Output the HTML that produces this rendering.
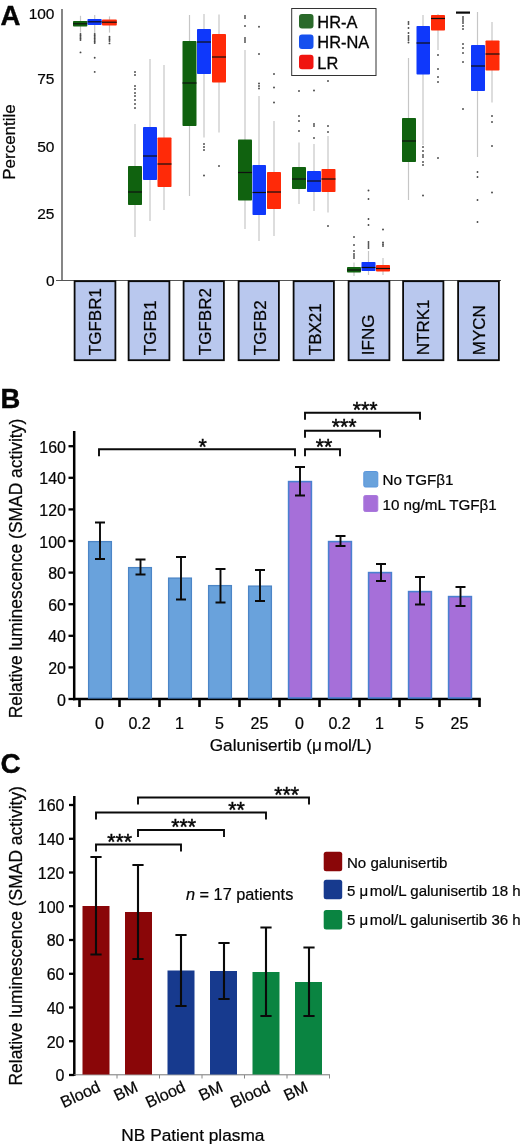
<!DOCTYPE html>
<html lang="en"><head><meta charset="utf-8"><title>Figure</title>
<style>html,body{margin:0;padding:0;background:#fff}svg{display:block}text{font-family:"Liberation Sans", Arial, sans-serif;fill:#050505;stroke:#050505;stroke-width:0.22px}</style>
</head><body>
<svg width="520" height="1148" viewBox="0 0 520 1148">
<rect width="520" height="1148" fill="#fff"/>
<g id="panelA">
<text x="0.6" y="25" font-size="27.6" font-weight="bold" fill="#000" style="stroke-width:0.4px">A</text>
<line x1="62" y1="9" x2="62" y2="281" stroke="#444" stroke-width="1.3"/>
<line x1="56" y1="280.5" x2="501" y2="280.5" stroke="#555" stroke-width="1"/>
<text x="54.5" y="19.4" font-size="15.5" text-anchor="end">100</text>
<text x="54.5" y="84.4" font-size="15.5" text-anchor="end">75</text>
<text x="54.5" y="151.9" font-size="15.5" text-anchor="end">50</text>
<text x="54.5" y="218.9" font-size="15.5" text-anchor="end">25</text>
<text x="54.5" y="285.8" font-size="15.5" text-anchor="end">0</text>
<text transform="translate(15,142) rotate(-90)" font-size="17" text-anchor="middle">Percentile</text>
<line x1="80.5" y1="15.8" x2="80.5" y2="32.6" stroke="#c6c6c6" stroke-width="1.2"/>
<rect x="73.0" y="20.9" width="14.3" height="5.6" fill="#10620f" rx="0.8"/>
<line x1="73.0" y1="23.8" x2="87.3" y2="23.8" stroke="#101010" stroke-width="1.2"/>
<circle cx="80.5" cy="34.0" r="0.95" fill="#484848"/>
<circle cx="80.5" cy="35.5" r="0.95" fill="#484848"/>
<circle cx="80.5" cy="37.0" r="0.95" fill="#484848"/>
<circle cx="80.5" cy="38.5" r="0.95" fill="#484848"/>
<circle cx="80.5" cy="40.0" r="0.95" fill="#484848"/>
<circle cx="80.5" cy="52.4" r="0.95" fill="#484848"/>
<line x1="94.7" y1="15.0" x2="94.7" y2="33.0" stroke="#c6c6c6" stroke-width="1.2"/>
<rect x="87.5" y="18.9" width="14.2" height="6.0" fill="#0f38fb" rx="0.8"/>
<line x1="87.5" y1="21.8" x2="101.7" y2="21.8" stroke="#101010" stroke-width="1.2"/>
<circle cx="94.7" cy="34.0" r="0.95" fill="#484848"/>
<circle cx="94.7" cy="35.5" r="0.95" fill="#484848"/>
<circle cx="94.7" cy="37.0" r="0.95" fill="#484848"/>
<circle cx="94.7" cy="38.5" r="0.95" fill="#484848"/>
<circle cx="94.7" cy="40.0" r="0.95" fill="#484848"/>
<circle cx="94.7" cy="41.5" r="0.95" fill="#484848"/>
<circle cx="94.7" cy="43.0" r="0.95" fill="#484848"/>
<circle cx="94.7" cy="57.8" r="0.95" fill="#484848"/>
<circle cx="94.7" cy="71.9" r="0.95" fill="#484848"/>
<line x1="109.5" y1="16.4" x2="109.5" y2="32.6" stroke="#c6c6c6" stroke-width="1.2"/>
<rect x="102.0" y="19.5" width="14.8" height="6.1" fill="#ff2a08" rx="0.8"/>
<line x1="102.0" y1="22.2" x2="116.8" y2="22.2" stroke="#101010" stroke-width="1.2"/>
<circle cx="109.5" cy="36.6" r="0.95" fill="#484848"/>
<circle cx="109.5" cy="38.0" r="0.95" fill="#484848"/>
<circle cx="109.5" cy="39.5" r="0.95" fill="#484848"/>
<circle cx="109.5" cy="41.0" r="0.95" fill="#484848"/>
<circle cx="109.5" cy="43.4" r="0.95" fill="#484848"/>
<line x1="135.0" y1="124.0" x2="135.0" y2="237.0" stroke="#c6c6c6" stroke-width="1.2"/>
<rect x="128.0" y="166.0" width="14.0" height="39.0" fill="#10620f" rx="0.8"/>
<line x1="128.0" y1="192.0" x2="142.0" y2="192.0" stroke="#101010" stroke-width="1.2"/>
<circle cx="135.0" cy="72.0" r="0.95" fill="#484848"/>
<circle cx="135.0" cy="75.0" r="0.95" fill="#484848"/>
<circle cx="135.0" cy="86.0" r="0.95" fill="#484848"/>
<circle cx="135.0" cy="89.0" r="0.95" fill="#484848"/>
<circle cx="135.0" cy="93.0" r="0.95" fill="#484848"/>
<circle cx="135.0" cy="96.0" r="0.95" fill="#484848"/>
<circle cx="135.0" cy="100.0" r="0.95" fill="#484848"/>
<circle cx="135.0" cy="104.0" r="0.95" fill="#484848"/>
<circle cx="135.0" cy="108.0" r="0.95" fill="#484848"/>
<line x1="150.0" y1="59.0" x2="150.0" y2="221.0" stroke="#c6c6c6" stroke-width="1.2"/>
<rect x="143.0" y="127.0" width="14.0" height="53.0" fill="#0f38fb" rx="0.8"/>
<line x1="143.0" y1="156.0" x2="157.0" y2="156.0" stroke="#101010" stroke-width="1.2"/>
<line x1="164.0" y1="65.0" x2="164.0" y2="210.0" stroke="#c6c6c6" stroke-width="1.2"/>
<rect x="157.5" y="137.5" width="14.0" height="49.5" fill="#ff2a08" rx="0.8"/>
<line x1="157.5" y1="164.0" x2="171.5" y2="164.0" stroke="#101010" stroke-width="1.2"/>
<line x1="189.5" y1="15.0" x2="189.5" y2="196.0" stroke="#c6c6c6" stroke-width="1.2"/>
<rect x="182.5" y="41.0" width="14.0" height="85.0" fill="#10620f" rx="0.8"/>
<line x1="182.5" y1="83.0" x2="196.5" y2="83.0" stroke="#101010" stroke-width="1.2"/>
<line x1="204.0" y1="14.0" x2="204.0" y2="137.5" stroke="#c6c6c6" stroke-width="1.2"/>
<rect x="197.0" y="29.0" width="14.0" height="45.0" fill="#0f38fb" rx="0.8"/>
<line x1="197.0" y1="42.0" x2="211.0" y2="42.0" stroke="#101010" stroke-width="1.2"/>
<circle cx="204.0" cy="144.0" r="0.95" fill="#484848"/>
<circle cx="204.0" cy="147.0" r="0.95" fill="#484848"/>
<circle cx="204.0" cy="150.0" r="0.95" fill="#484848"/>
<circle cx="204.0" cy="175.5" r="0.95" fill="#484848"/>
<line x1="219.0" y1="14.5" x2="219.0" y2="132.5" stroke="#c6c6c6" stroke-width="1.2"/>
<rect x="212.0" y="34.0" width="14.0" height="48.5" fill="#ff2a08" rx="0.8"/>
<line x1="212.0" y1="57.0" x2="226.0" y2="57.0" stroke="#101010" stroke-width="1.2"/>
<circle cx="219.0" cy="166.0" r="0.95" fill="#484848"/>
<line x1="245.0" y1="50.0" x2="245.0" y2="229.0" stroke="#c6c6c6" stroke-width="1.2"/>
<rect x="238.0" y="139.5" width="14.0" height="61.0" fill="#10620f" rx="0.8"/>
<line x1="238.0" y1="172.5" x2="252.0" y2="172.5" stroke="#101010" stroke-width="1.2"/>
<circle cx="245.0" cy="16.0" r="0.95" fill="#484848"/>
<circle cx="245.0" cy="18.0" r="0.95" fill="#484848"/>
<circle cx="245.0" cy="26.0" r="0.95" fill="#484848"/>
<circle cx="245.0" cy="38.0" r="0.95" fill="#484848"/>
<circle cx="245.0" cy="40.0" r="0.95" fill="#484848"/>
<circle cx="245.0" cy="42.0" r="0.95" fill="#484848"/>
<line x1="259.0" y1="96.0" x2="259.0" y2="241.0" stroke="#c6c6c6" stroke-width="1.2"/>
<rect x="252.5" y="165.0" width="13.5" height="50.0" fill="#0f38fb" rx="0.8"/>
<line x1="252.5" y1="192.5" x2="266.0" y2="192.5" stroke="#101010" stroke-width="1.2"/>
<circle cx="259.0" cy="26.8" r="0.95" fill="#484848"/>
<circle cx="259.0" cy="54.0" r="0.95" fill="#484848"/>
<circle cx="259.0" cy="83.5" r="0.95" fill="#484848"/>
<circle cx="259.0" cy="86.0" r="0.95" fill="#484848"/>
<circle cx="259.0" cy="88.5" r="0.95" fill="#484848"/>
<line x1="274.0" y1="121.0" x2="274.0" y2="236.0" stroke="#c6c6c6" stroke-width="1.2"/>
<rect x="267.0" y="172.0" width="14.0" height="37.0" fill="#ff2a08" rx="0.8"/>
<line x1="267.0" y1="192.0" x2="281.0" y2="192.0" stroke="#101010" stroke-width="1.2"/>
<circle cx="274.0" cy="74.0" r="0.95" fill="#484848"/>
<circle cx="274.0" cy="87.5" r="0.95" fill="#484848"/>
<circle cx="274.0" cy="102.5" r="0.95" fill="#484848"/>
<line x1="299.0" y1="142.5" x2="299.0" y2="204.0" stroke="#c6c6c6" stroke-width="1.2"/>
<rect x="292.0" y="167.0" width="14.0" height="22.0" fill="#10620f" rx="0.8"/>
<line x1="292.0" y1="179.0" x2="306.0" y2="179.0" stroke="#101010" stroke-width="1.2"/>
<circle cx="299.0" cy="91.0" r="0.95" fill="#484848"/>
<circle cx="299.0" cy="116.0" r="0.95" fill="#484848"/>
<circle cx="299.0" cy="121.0" r="0.95" fill="#484848"/>
<circle cx="299.0" cy="131.0" r="0.95" fill="#484848"/>
<line x1="314.0" y1="144.0" x2="314.0" y2="211.0" stroke="#c6c6c6" stroke-width="1.2"/>
<rect x="307.0" y="171.0" width="14.0" height="21.0" fill="#0f38fb" rx="0.8"/>
<line x1="307.0" y1="181.0" x2="321.0" y2="181.0" stroke="#101010" stroke-width="1.2"/>
<circle cx="314.0" cy="90.5" r="0.95" fill="#484848"/>
<circle cx="314.0" cy="124.0" r="0.95" fill="#484848"/>
<circle cx="314.0" cy="126.0" r="0.95" fill="#484848"/>
<circle cx="314.0" cy="138.0" r="0.95" fill="#484848"/>
<line x1="328.0" y1="136.0" x2="328.0" y2="212.5" stroke="#c6c6c6" stroke-width="1.2"/>
<rect x="321.5" y="169.0" width="14.0" height="23.0" fill="#ff2a08" rx="0.8"/>
<line x1="321.5" y1="179.0" x2="335.5" y2="179.0" stroke="#101010" stroke-width="1.2"/>
<circle cx="328.0" cy="81.0" r="0.95" fill="#484848"/>
<circle cx="328.0" cy="126.0" r="0.95" fill="#484848"/>
<circle cx="328.0" cy="132.0" r="0.95" fill="#484848"/>
<circle cx="328.0" cy="226.0" r="0.95" fill="#484848"/>
<line x1="354.0" y1="262.5" x2="354.0" y2="276.0" stroke="#c6c6c6" stroke-width="1.2"/>
<rect x="347.0" y="267.0" width="14.0" height="5.5" fill="#10620f" rx="0.8"/>
<line x1="347.0" y1="270.0" x2="361.0" y2="270.0" stroke="#101010" stroke-width="1.2"/>
<circle cx="354.0" cy="237.0" r="0.95" fill="#484848"/>
<circle cx="354.0" cy="245.0" r="0.95" fill="#484848"/>
<circle cx="354.0" cy="251.0" r="0.95" fill="#484848"/>
<circle cx="354.0" cy="254.0" r="0.95" fill="#484848"/>
<circle cx="354.0" cy="256.0" r="0.95" fill="#484848"/>
<circle cx="354.0" cy="258.0" r="0.95" fill="#484848"/>
<line x1="368.5" y1="251.0" x2="368.5" y2="275.0" stroke="#c6c6c6" stroke-width="1.2"/>
<rect x="361.5" y="262.0" width="14.0" height="9.0" fill="#0f38fb" rx="0.8"/>
<line x1="361.5" y1="267.5" x2="375.5" y2="267.5" stroke="#101010" stroke-width="1.2"/>
<circle cx="368.5" cy="190.5" r="0.95" fill="#484848"/>
<circle cx="368.5" cy="199.0" r="0.95" fill="#484848"/>
<circle cx="368.5" cy="219.0" r="0.95" fill="#484848"/>
<circle cx="368.5" cy="225.0" r="0.95" fill="#484848"/>
<circle cx="368.5" cy="242.0" r="0.95" fill="#484848"/>
<circle cx="368.5" cy="244.0" r="0.95" fill="#484848"/>
<circle cx="368.5" cy="246.0" r="0.95" fill="#484848"/>
<circle cx="368.5" cy="248.0" r="0.95" fill="#484848"/>
<line x1="383.0" y1="258.0" x2="383.0" y2="275.0" stroke="#c6c6c6" stroke-width="1.2"/>
<rect x="376.0" y="265.0" width="14.0" height="6.5" fill="#ff2a08" rx="0.8"/>
<line x1="376.0" y1="268.5" x2="390.0" y2="268.5" stroke="#101010" stroke-width="1.2"/>
<circle cx="383.0" cy="229.5" r="0.95" fill="#484848"/>
<circle cx="383.0" cy="242.5" r="0.95" fill="#484848"/>
<circle cx="383.0" cy="244.3" r="0.95" fill="#484848"/>
<circle cx="383.0" cy="246.0" r="0.95" fill="#484848"/>
<line x1="408.5" y1="58.0" x2="408.5" y2="200.0" stroke="#c6c6c6" stroke-width="1.2"/>
<rect x="402.0" y="118.0" width="14.0" height="44.0" fill="#10620f" rx="0.8"/>
<line x1="402.0" y1="141.0" x2="416.0" y2="141.0" stroke="#101010" stroke-width="1.2"/>
<circle cx="408.5" cy="22.0" r="0.95" fill="#484848"/>
<circle cx="408.5" cy="24.0" r="0.95" fill="#484848"/>
<circle cx="408.5" cy="28.0" r="0.95" fill="#484848"/>
<circle cx="408.5" cy="33.0" r="0.95" fill="#484848"/>
<circle cx="408.5" cy="36.0" r="0.95" fill="#484848"/>
<circle cx="408.5" cy="38.0" r="0.95" fill="#484848"/>
<circle cx="408.5" cy="40.0" r="0.95" fill="#484848"/>
<circle cx="408.5" cy="42.5" r="0.95" fill="#484848"/>
<line x1="423.0" y1="15.0" x2="423.0" y2="145.0" stroke="#c6c6c6" stroke-width="1.2"/>
<rect x="416.5" y="26.0" width="13.5" height="48.5" fill="#0f38fb" rx="0.8"/>
<line x1="416.5" y1="43.0" x2="430.0" y2="43.0" stroke="#101010" stroke-width="1.2"/>
<circle cx="423.0" cy="147.0" r="0.95" fill="#484848"/>
<circle cx="423.0" cy="151.0" r="0.95" fill="#484848"/>
<circle cx="423.0" cy="155.0" r="0.95" fill="#484848"/>
<circle cx="423.0" cy="157.0" r="0.95" fill="#484848"/>
<circle cx="423.0" cy="162.0" r="0.95" fill="#484848"/>
<circle cx="423.0" cy="165.0" r="0.95" fill="#484848"/>
<circle cx="423.0" cy="195.5" r="0.95" fill="#484848"/>
<line x1="438.0" y1="14.0" x2="438.0" y2="50.0" stroke="#c6c6c6" stroke-width="1.2"/>
<rect x="431.0" y="15.0" width="14.0" height="15.5" fill="#ff2a08" rx="0.8"/>
<line x1="431.0" y1="18.5" x2="445.0" y2="18.5" stroke="#101010" stroke-width="1.2"/>
<circle cx="438.0" cy="55.0" r="0.95" fill="#484848"/>
<circle cx="438.0" cy="69.0" r="0.95" fill="#484848"/>
<circle cx="438.0" cy="77.0" r="0.95" fill="#484848"/>
<circle cx="438.0" cy="82.0" r="0.95" fill="#484848"/>
<circle cx="438.0" cy="158.0" r="0.95" fill="#484848"/>
<line x1="477.5" y1="12.0" x2="477.5" y2="157.0" stroke="#c6c6c6" stroke-width="1.2"/>
<rect x="471.0" y="45.0" width="14.0" height="46.0" fill="#0f38fb" rx="0.8"/>
<line x1="471.0" y1="66.0" x2="485.0" y2="66.0" stroke="#101010" stroke-width="1.2"/>
<circle cx="477.5" cy="172.0" r="0.95" fill="#484848"/>
<circle cx="477.5" cy="177.0" r="0.95" fill="#484848"/>
<circle cx="477.5" cy="200.0" r="0.95" fill="#484848"/>
<circle cx="477.5" cy="222.0" r="0.95" fill="#484848"/>
<line x1="492.0" y1="22.0" x2="492.0" y2="102.5" stroke="#c6c6c6" stroke-width="1.2"/>
<rect x="485.5" y="40.5" width="14.0" height="30.0" fill="#ff2a08" rx="0.8"/>
<line x1="485.5" y1="54.0" x2="499.5" y2="54.0" stroke="#101010" stroke-width="1.2"/>
<circle cx="492.0" cy="116.0" r="0.95" fill="#484848"/>
<circle cx="492.0" cy="122.0" r="0.95" fill="#484848"/>
<circle cx="492.0" cy="146.0" r="0.95" fill="#484848"/>
<circle cx="492.0" cy="192.5" r="0.95" fill="#484848"/>
<line x1="456" y1="12.6" x2="470" y2="12.6" stroke="#0a0a0a" stroke-width="2.2"/>
<circle cx="463" cy="17.0" r="0.95" fill="#484848"/>
<circle cx="463" cy="19.0" r="0.95" fill="#484848"/>
<circle cx="463" cy="21.0" r="0.95" fill="#484848"/>
<circle cx="463" cy="23.0" r="0.95" fill="#484848"/>
<circle cx="463" cy="26.0" r="0.95" fill="#484848"/>
<circle cx="463" cy="29.0" r="0.95" fill="#484848"/>
<circle cx="463" cy="44.0" r="0.95" fill="#484848"/>
<circle cx="463" cy="48.0" r="0.95" fill="#484848"/>
<circle cx="463" cy="53.0" r="0.95" fill="#484848"/>
<circle cx="463" cy="62.0" r="0.95" fill="#484848"/>
<circle cx="463" cy="109.0" r="0.95" fill="#484848"/>
<rect x="291.7" y="8.5" width="84.3" height="67" fill="#fff" stroke="#333" stroke-width="1"/>
<rect x="299" y="14.0" width="14.5" height="14.5" rx="3" fill="#2a692a"/>
<text x="317.3" y="27.7" font-size="16.4" style="stroke-width:0.3px">HR-A</text>
<rect x="299" y="34.5" width="14.5" height="14.5" rx="3" fill="#1650ee"/>
<text x="317.3" y="47.5" font-size="16.4" style="stroke-width:0.3px">HR-NA</text>
<rect x="299" y="54.7" width="14.5" height="14.5" rx="3" fill="#f01410"/>
<text x="317.3" y="68.9" font-size="16.4" style="stroke-width:0.3px">LR</text>
<rect x="74.6" y="281.2" width="40.8" height="79" fill="#b9c8ee" stroke="#0a0a0a" stroke-width="1.8"/>
<text transform="translate(101.1,355.2) rotate(-90)" font-size="17">TGFBR1</text>
<rect x="128.6" y="281.2" width="40.8" height="79" fill="#b9c8ee" stroke="#0a0a0a" stroke-width="1.8"/>
<text transform="translate(156.4,355.2) rotate(-90)" font-size="17">TGFB1</text>
<rect x="183.6" y="281.2" width="40.3" height="79" fill="#b9c8ee" stroke="#0a0a0a" stroke-width="1.8"/>
<text transform="translate(211.4,355.2) rotate(-90)" font-size="17">TGFBR2</text>
<rect x="238.6" y="281.2" width="40.3" height="79" fill="#b9c8ee" stroke="#0a0a0a" stroke-width="1.8"/>
<text transform="translate(265.7,355.2) rotate(-90)" font-size="17">TGFB2</text>
<rect x="293.6" y="281.2" width="40.3" height="79" fill="#b9c8ee" stroke="#0a0a0a" stroke-width="1.8"/>
<text transform="translate(321.4,355.2) rotate(-90)" font-size="17">TBX21</text>
<rect x="348.6" y="281.2" width="40.8" height="79" fill="#b9c8ee" stroke="#0a0a0a" stroke-width="1.8"/>
<text transform="translate(374.1,355.2) rotate(-90)" font-size="17">IFNG</text>
<rect x="403.1" y="281.2" width="40.3" height="79" fill="#b9c8ee" stroke="#0a0a0a" stroke-width="1.8"/>
<text transform="translate(429.4,355.2) rotate(-90)" font-size="17">NTRK1</text>
<rect x="458.1" y="281.2" width="40.8" height="79" fill="#b9c8ee" stroke="#0a0a0a" stroke-width="1.8"/>
<text transform="translate(484.5,355.2) rotate(-90)" font-size="17">MYCN</text>
</g>
<g id="panelB">
<text x="0.6" y="408" font-size="27.4" font-weight="bold" fill="#000" style="stroke-width:0.4px">B</text>
<text transform="translate(22,568.5) rotate(-90)" font-size="17.45" text-anchor="middle">Relative luminescence (SMAD activity)</text>
<line x1="74.2" y1="431" x2="74.2" y2="700.2" stroke="#000" stroke-width="2.5"/>
<line x1="73" y1="699" x2="480.8" y2="699" stroke="#000" stroke-width="2.5"/>
<line x1="68.5" y1="699.0" x2="74" y2="699.0" stroke="#000" stroke-width="2.3"/>
<text x="66" y="705.6" font-size="16" text-anchor="end">0</text>
<line x1="68.5" y1="667.4" x2="74" y2="667.4" stroke="#000" stroke-width="2.3"/>
<text x="66" y="674.0" font-size="16" text-anchor="end">20</text>
<line x1="68.5" y1="635.8" x2="74" y2="635.8" stroke="#000" stroke-width="2.3"/>
<text x="66" y="642.4" font-size="16" text-anchor="end">40</text>
<line x1="68.5" y1="604.2" x2="74" y2="604.2" stroke="#000" stroke-width="2.3"/>
<text x="66" y="610.8" font-size="16" text-anchor="end">60</text>
<line x1="68.5" y1="572.6" x2="74" y2="572.6" stroke="#000" stroke-width="2.3"/>
<text x="66" y="579.2" font-size="16" text-anchor="end">80</text>
<line x1="68.5" y1="541.0" x2="74" y2="541.0" stroke="#000" stroke-width="2.3"/>
<text x="66" y="547.6" font-size="16" text-anchor="end">100</text>
<line x1="68.5" y1="509.4" x2="74" y2="509.4" stroke="#000" stroke-width="2.3"/>
<text x="66" y="516.0" font-size="16" text-anchor="end">120</text>
<line x1="68.5" y1="477.8" x2="74" y2="477.8" stroke="#000" stroke-width="2.3"/>
<text x="66" y="484.4" font-size="16" text-anchor="end">140</text>
<line x1="68.5" y1="446.2" x2="74" y2="446.2" stroke="#000" stroke-width="2.3"/>
<text x="66" y="452.8" font-size="16" text-anchor="end">160</text>
<line x1="79.5" y1="699" x2="79.5" y2="707" stroke="#000" stroke-width="2.6"/>
<line x1="119.5" y1="699" x2="119.5" y2="707" stroke="#000" stroke-width="2.6"/>
<line x1="159.5" y1="699" x2="159.5" y2="707" stroke="#000" stroke-width="2.6"/>
<line x1="199.5" y1="699" x2="199.5" y2="707" stroke="#000" stroke-width="2.6"/>
<line x1="239.5" y1="699" x2="239.5" y2="707" stroke="#000" stroke-width="2.6"/>
<line x1="279.5" y1="699" x2="279.5" y2="707" stroke="#000" stroke-width="2.6"/>
<line x1="319.5" y1="699" x2="319.5" y2="707" stroke="#000" stroke-width="2.6"/>
<line x1="359.5" y1="699" x2="359.5" y2="707" stroke="#000" stroke-width="2.6"/>
<line x1="399.5" y1="699" x2="399.5" y2="707" stroke="#000" stroke-width="2.6"/>
<line x1="439.5" y1="699" x2="439.5" y2="707" stroke="#000" stroke-width="2.6"/>
<line x1="479.5" y1="699" x2="479.5" y2="707" stroke="#000" stroke-width="2.6"/>
<rect x="88.6" y="541.6" width="22.8" height="156.4" fill="#69a2dc" stroke="#4b85c6" stroke-width="1.3"/>
<path d="M100.0 522.5V559.0M95.0 522.5H105.0M95.0 559.0H105.0" stroke="#0a0a0a" stroke-width="1.9" fill="none"/>
<text x="99.5" y="729" font-size="16" text-anchor="middle">0</text>
<rect x="128.6" y="567.6" width="22.8" height="130.4" fill="#69a2dc" stroke="#4b85c6" stroke-width="1.3"/>
<path d="M140.5 559.5V574.5M135.5 559.5H145.5M135.5 574.5H145.5" stroke="#0a0a0a" stroke-width="1.9" fill="none"/>
<text x="139.5" y="729" font-size="16" text-anchor="middle">0.2</text>
<rect x="168.6" y="578.1" width="22.8" height="119.9" fill="#69a2dc" stroke="#4b85c6" stroke-width="1.3"/>
<path d="M181.0 557.0V599.5M176.0 557.0H186.0M176.0 599.5H186.0" stroke="#0a0a0a" stroke-width="1.9" fill="none"/>
<text x="179.5" y="729" font-size="16" text-anchor="middle">1</text>
<rect x="208.6" y="585.6" width="22.8" height="112.4" fill="#69a2dc" stroke="#4b85c6" stroke-width="1.3"/>
<path d="M220.5 569.0V602.5M215.5 569.0H225.5M215.5 602.5H225.5" stroke="#0a0a0a" stroke-width="1.9" fill="none"/>
<text x="219.5" y="729" font-size="16" text-anchor="middle">5</text>
<rect x="248.6" y="586.1" width="22.8" height="111.9" fill="#69a2dc" stroke="#4b85c6" stroke-width="1.3"/>
<path d="M260.0 570.0V601.0M255.0 570.0H265.0M255.0 601.0H265.0" stroke="#0a0a0a" stroke-width="1.9" fill="none"/>
<text x="259.5" y="729" font-size="16" text-anchor="middle">25</text>
<rect x="288.6" y="481.6" width="22.8" height="216.4" fill="#a66fd9" stroke="#4a80d0" stroke-width="1.6"/>
<path d="M300.0 467.0V495.5M295.0 467.0H305.0M295.0 495.5H305.0" stroke="#0a0a0a" stroke-width="1.9" fill="none"/>
<text x="299.5" y="729" font-size="16" text-anchor="middle">0</text>
<rect x="328.6" y="541.6" width="22.8" height="156.4" fill="#a66fd9" stroke="#4a80d0" stroke-width="1.6"/>
<path d="M340.5 536.0V546.0M335.5 536.0H345.5M335.5 546.0H345.5" stroke="#0a0a0a" stroke-width="1.9" fill="none"/>
<text x="339.5" y="729" font-size="16" text-anchor="middle">0.2</text>
<rect x="368.6" y="572.6" width="22.8" height="125.4" fill="#a66fd9" stroke="#4a80d0" stroke-width="1.6"/>
<path d="M381.0 564.0V581.0M376.0 564.0H386.0M376.0 581.0H386.0" stroke="#0a0a0a" stroke-width="1.9" fill="none"/>
<text x="379.5" y="729" font-size="16" text-anchor="middle">1</text>
<rect x="408.6" y="591.6" width="22.8" height="106.4" fill="#a66fd9" stroke="#4a80d0" stroke-width="1.6"/>
<path d="M420.0 577.0V604.5M415.0 577.0H425.0M415.0 604.5H425.0" stroke="#0a0a0a" stroke-width="1.9" fill="none"/>
<text x="419.5" y="729" font-size="16" text-anchor="middle">5</text>
<rect x="448.6" y="596.6" width="22.8" height="101.4" fill="#a66fd9" stroke="#4a80d0" stroke-width="1.6"/>
<path d="M460.5 587.0V606.0M455.5 587.0H465.5M455.5 606.0H465.5" stroke="#0a0a0a" stroke-width="1.9" fill="none"/>
<text x="459.5" y="729" font-size="16" text-anchor="middle">25</text>
<text x="290.8" y="750.5" font-size="17.2" text-anchor="middle">Galunisertib (<tspan letter-spacing="2.2">μ</tspan>mol/L)</text>
<path d="M99.0 456.3V449.3H295.0V456.3" stroke="#0a0a0a" stroke-width="1.9" fill="none"/>
<text x="202.6" y="453.6" font-size="21.3" text-anchor="middle" style="stroke-width:0.45px">*</text>
<path d="M305.0 456.3V449.3H340.0V456.3" stroke="#0a0a0a" stroke-width="1.9" fill="none"/>
<text x="324.1" y="453.8" font-size="21.3" text-anchor="middle" style="stroke-width:0.45px">**</text>
<path d="M305.0 437.7V430.7H380.0V437.7" stroke="#0a0a0a" stroke-width="1.9" fill="none"/>
<text x="344.1" y="434.3" font-size="21.3" text-anchor="middle" style="stroke-width:0.45px">***</text>
<path d="M305.0 419.7V412.7H420.0V419.7" stroke="#0a0a0a" stroke-width="1.9" fill="none"/>
<text x="365.1" y="417.0" font-size="21.3" text-anchor="middle" style="stroke-width:0.45px">***</text>
<rect x="363.8" y="471.5" width="14" height="15.5" rx="1.5" fill="#69a2dc" stroke="#5a96dc"/>
<rect x="363.8" y="495.5" width="14" height="16" rx="1.5" fill="#a66fd9" stroke="#a978dc"/>
<text x="382.5" y="485" font-size="15.2">No TGFβ1</text>
<text x="382.5" y="510" font-size="15.2">10 ng/mL TGFβ1</text>
</g>
<g id="panelC">
<text x="0.6" y="772.6" font-size="28" font-weight="bold" fill="#000" style="stroke-width:0.4px">C</text>
<text transform="translate(22,935.8) rotate(-90)" font-size="17.45" text-anchor="middle">Relative luminescence (SMAD activity)</text>
<line x1="74.3" y1="796" x2="74.3" y2="1076" stroke="#000" stroke-width="2.5"/>
<line x1="73" y1="1074.8" x2="330" y2="1074.8" stroke="#777" stroke-width="1"/>
<line x1="69" y1="1075.0" x2="74" y2="1075.0" stroke="#000" stroke-width="2.3"/>
<text x="64.5" y="1081.4" font-size="16" text-anchor="end">0</text>
<line x1="69" y1="1041.2" x2="74" y2="1041.2" stroke="#000" stroke-width="2.3"/>
<text x="64.5" y="1047.7" font-size="16" text-anchor="end">20</text>
<line x1="69" y1="1007.5" x2="74" y2="1007.5" stroke="#000" stroke-width="2.3"/>
<text x="64.5" y="1013.9" font-size="16" text-anchor="end">40</text>
<line x1="69" y1="973.8" x2="74" y2="973.8" stroke="#000" stroke-width="2.3"/>
<text x="64.5" y="980.1" font-size="16" text-anchor="end">60</text>
<line x1="69" y1="940.0" x2="74" y2="940.0" stroke="#000" stroke-width="2.3"/>
<text x="64.5" y="946.4" font-size="16" text-anchor="end">80</text>
<line x1="69" y1="906.2" x2="74" y2="906.2" stroke="#000" stroke-width="2.3"/>
<text x="64.5" y="912.6" font-size="16" text-anchor="end">100</text>
<line x1="69" y1="872.5" x2="74" y2="872.5" stroke="#000" stroke-width="2.3"/>
<text x="64.5" y="878.9" font-size="16" text-anchor="end">120</text>
<line x1="69" y1="838.8" x2="74" y2="838.8" stroke="#000" stroke-width="2.3"/>
<text x="64.5" y="845.1" font-size="16" text-anchor="end">140</text>
<line x1="69" y1="805.0" x2="74" y2="805.0" stroke="#000" stroke-width="2.3"/>
<text x="64.5" y="811.4" font-size="16" text-anchor="end">160</text>
<line x1="117.0" y1="1075" x2="117.0" y2="1078.5" stroke="#888" stroke-width="1"/>
<line x1="159.5" y1="1075" x2="159.5" y2="1078.5" stroke="#888" stroke-width="1"/>
<line x1="202.0" y1="1075" x2="202.0" y2="1078.5" stroke="#888" stroke-width="1"/>
<line x1="244.5" y1="1075" x2="244.5" y2="1078.5" stroke="#888" stroke-width="1"/>
<line x1="287.0" y1="1075" x2="287.0" y2="1078.5" stroke="#888" stroke-width="1"/>
<line x1="329.5" y1="1075" x2="329.5" y2="1078.5" stroke="#888" stroke-width="1"/>
<rect x="82.5" y="906.0" width="27" height="168.5" fill="#8a0608"/>
<path d="M96.0 857.0V954.5M90.4 857.0H101.6M90.4 954.5H101.6" stroke="#0a0a0a" stroke-width="2.1" fill="none"/>
<rect x="125.0" y="912.0" width="27" height="162.5" fill="#8a0608"/>
<path d="M138.0 865.0V959.0M132.4 865.0H143.6M132.4 959.0H143.6" stroke="#0a0a0a" stroke-width="2.1" fill="none"/>
<rect x="167.5" y="970.5" width="27" height="104.0" fill="#173a8e"/>
<path d="M181.0 935.0V1006.0M175.4 935.0H186.6M175.4 1006.0H186.6" stroke="#0a0a0a" stroke-width="2.1" fill="none"/>
<rect x="210.0" y="971.0" width="27" height="103.5" fill="#173a8e"/>
<path d="M224.0 943.0V999.0M218.4 943.0H229.6M218.4 999.0H229.6" stroke="#0a0a0a" stroke-width="2.1" fill="none"/>
<rect x="252.5" y="972.0" width="27" height="102.5" fill="#0a8441"/>
<path d="M266.0 927.5V1016.0M260.4 927.5H271.6M260.4 1016.0H271.6" stroke="#0a0a0a" stroke-width="2.1" fill="none"/>
<rect x="295.0" y="982.0" width="27" height="92.5" fill="#0a8441"/>
<path d="M309.0 947.5V1016.0M303.4 947.5H314.6M303.4 1016.0H314.6" stroke="#0a0a0a" stroke-width="2.1" fill="none"/>
<text transform="translate(63.8,1108.2) rotate(-25)" font-size="16.3">Blood</text>
<text transform="translate(117.0,1101.2) rotate(-25)" font-size="16.3">BM</text>
<text transform="translate(148.8,1108.2) rotate(-25)" font-size="16.3">Blood</text>
<text transform="translate(202.0,1101.2) rotate(-25)" font-size="16.3">BM</text>
<text transform="translate(233.8,1108.2) rotate(-25)" font-size="16.3">Blood</text>
<text transform="translate(287.0,1101.2) rotate(-25)" font-size="16.3">BM</text>
<text x="192.9" y="1141.3" font-size="17.3" text-anchor="middle">NB Patient plasma</text>
<text x="186" y="900" font-size="16.3"><tspan font-style="italic">n</tspan> = 17 patients</text>
<path d="M138.0 804.5V797.5H309.0V804.5" stroke="#0a0a0a" stroke-width="1.9" fill="none"/>
<text x="286.6" y="801.9" font-size="21.3" text-anchor="middle" style="stroke-width:0.45px">***</text>
<path d="M96.0 819.5V812.5H266.0V819.5" stroke="#0a0a0a" stroke-width="1.9" fill="none"/>
<text x="236.6" y="816.9" font-size="21.3" text-anchor="middle" style="stroke-width:0.45px">**</text>
<path d="M138.0 837.0V830.0H224.0V837.0" stroke="#0a0a0a" stroke-width="1.9" fill="none"/>
<text x="183.6" y="833.9" font-size="21.3" text-anchor="middle" style="stroke-width:0.45px">***</text>
<path d="M96.0 851.5V844.5H181.0V851.5" stroke="#0a0a0a" stroke-width="1.9" fill="none"/>
<text x="119.6" y="848.6" font-size="21.3" text-anchor="middle" style="stroke-width:0.45px">***</text>
<rect x="323.7" y="851.7" width="18.5" height="19.5" rx="2.5" fill="#8a0608"/>
<text x="347" y="867.6" font-size="15.05">No galunisertib</text>
<rect x="323.7" y="879.8" width="18.5" height="19.5" rx="2.5" fill="#173a8e"/>
<text x="347" y="895.5" font-size="15.05">5 <tspan letter-spacing='1.6'>μ</tspan>mol/L galunisertib 18 h</text>
<rect x="323.7" y="910.0" width="18.5" height="19.5" rx="2.5" fill="#0a8441"/>
<text x="347" y="925.0" font-size="15.05">5 <tspan letter-spacing='1.6'>μ</tspan>mol/L galunisertib 36 h</text>
</g>
</svg></body></html>
